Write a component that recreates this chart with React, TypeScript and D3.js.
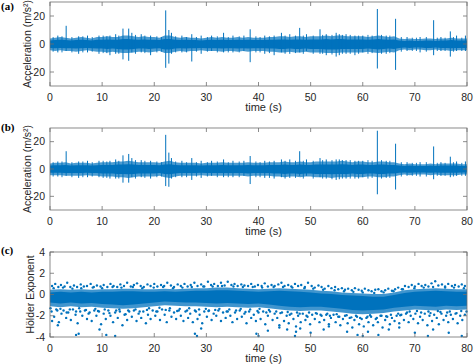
import React from "react";
import * as d3 from "d3";

// ---------- data ----------
const xTicks = [0, 10, 20, 30, 40, 50, 60, 70, 80];
const accTicks = [-20, 0, 20];
const holderTicks = [-4, -2, 0, 2, 4];

// panel (a) outer envelope of the noise band, one value per second (0..80)
const aHi = [
  4.0, 4.5, 5.0, 4.5, 4.0, 4.5, 5.0, 4.5, 4.0, 5.0,
  5.0, 5.5, 5.0, 5.0, 6.0, 6.0, 5.5, 5.0, 5.5, 5.0,
  5.0, 4.5, 6.0, 6.0, 5.0, 4.5, 5.0, 4.5, 4.5, 4.0,
  4.5, 5.0, 4.5, 5.0, 4.5, 4.5, 5.0, 4.5, 5.0, 4.5,
  4.5, 4.5, 5.0, 5.0, 5.5, 5.5, 5.0, 5.5, 5.5, 5.0,
  5.5, 5.5, 5.5, 6.0, 5.5, 6.0, 6.0, 5.5, 5.5, 5.5,
  5.5, 5.0, 5.5, 6.0, 5.5, 5.0, 5.5, 4.0, 3.5, 4.0,
  3.5, 3.5, 4.0, 4.0, 3.5, 4.0, 4.0, 4.5, 4.0, 4.0, 4.0,
];
const aLo = [
  -4.5, -5.0, -4.5, -5.0, -5.0, -5.5, -5.0, -4.5, -5.0, -5.5,
  -5.5, -6.0, -5.5, -6.0, -6.5, -6.5, -6.0, -5.5, -5.5, -6.0,
  -5.5, -5.0, -6.5, -6.5, -5.5, -5.0, -5.5, -5.0, -5.0, -4.5,
  -5.0, -5.0, -5.0, -5.5, -5.0, -5.0, -5.5, -5.0, -5.5, -5.0,
  -5.0, -5.0, -5.5, -5.5, -6.0, -6.0, -5.5, -6.0, -6.0, -5.5,
  -6.0, -6.0, -6.0, -6.5, -6.5, -6.5, -6.0, -6.0, -6.0, -6.0,
  -6.0, -5.5, -6.0, -6.5, -6.0, -5.5, -6.0, -4.5, -4.0, -4.5,
  -4.0, -4.0, -4.5, -4.5, -4.0, -4.5, -4.5, -5.0, -4.5, -4.5, -4.5,
];
// panel (a) solid inner part of the band
const aInHi = [
  2.5, 2.8, 3.0, 2.8, 2.5, 2.8, 3.0, 2.8, 2.5, 3.0,
  3.0, 3.3, 3.0, 3.0, 3.5, 3.5, 3.3, 3.0, 3.3, 3.0,
  3.0, 2.8, 3.5, 3.5, 3.0, 2.8, 3.0, 2.8, 2.8, 2.5,
  2.8, 3.0, 2.8, 3.0, 2.8, 2.8, 3.0, 2.8, 3.0, 2.8,
  2.8, 2.8, 3.0, 3.0, 3.3, 3.3, 3.0, 3.3, 3.3, 3.0,
  3.3, 3.3, 3.3, 3.5, 3.3, 3.5, 3.5, 3.3, 3.3, 3.3,
  3.3, 3.0, 3.3, 3.5, 3.3, 3.0, 3.3, 2.5, 2.2, 2.5,
  2.2, 2.2, 2.5, 2.5, 2.2, 2.5, 2.5, 2.8, 2.5, 2.5, 2.5,
];
const aInLo = [
  -2.8, -3.0, -2.8, -3.0, -3.0, -3.3, -3.0, -2.8, -3.0, -3.3,
  -3.3, -3.6, -3.3, -3.6, -3.9, -3.9, -3.6, -3.3, -3.3, -3.6,
  -3.3, -3.0, -3.9, -3.9, -3.3, -3.0, -3.3, -3.0, -3.0, -2.8,
  -3.0, -3.0, -3.0, -3.3, -3.0, -3.0, -3.3, -3.0, -3.3, -3.0,
  -3.0, -3.0, -3.3, -3.3, -3.6, -3.6, -3.3, -3.6, -3.6, -3.3,
  -3.6, -3.6, -3.6, -3.9, -3.9, -3.9, -3.6, -3.6, -3.6, -3.6,
  -3.6, -3.3, -3.6, -3.9, -3.6, -3.3, -3.6, -2.8, -2.5, -2.8,
  -2.5, -2.5, -2.8, -2.8, -2.5, -2.8, -2.8, -3.0, -2.8, -2.8, -2.8,
];
// panel (a) spikes: time, peak, trough
const aSpikeT = [1.5, 3.1, 5.5, 7.2, 9.4, 11.5, 12.6, 14.0, 15.1, 15.7, 17.5, 19.3, 22.2, 22.8, 23.3, 25.3, 27.2, 29.0, 31.0, 33.3, 35.1, 37.2, 38.4, 41.2, 43.0, 44.4, 46.0, 47.9, 49.2, 51.8, 53.0, 54.9, 55.5, 56.8, 58.5, 60.0, 62.8, 64.5, 66.3, 68.5, 71.0, 73.6, 75.0, 76.8, 78.0, 79.7];
const aSpikeHi = [6, 13, 5.5, 6, 6, 6, 7, 11, 11, 8, 7, 6, 24, 10, 8, 6, 7, 6, 6, 8, 6, 6, 10.5, 6, 6, 8, 7, 11.5, 7, 10.5, 7, 8, 7, 7, 6, 6, 25, 6, 18, 5, 5, 17, 5, 9, 6, 6];
const aSpikeLo = [-6, -5, -7, -6, -7, -8, -7, -11, -12, -6, -6, -8, -17, -14, -7, -6, -12.5, -7, -5, -6, -6, -5, -13, -7, -8, -6, -7, -6, -5, -7, -8, -9, -8, -7, -8, -6, -17.5, -7, -18.5, -5, -6, -8, -5, -9, -5, -5];

// small excursions shared by both acceleration records
const minorT = [0.6, 2.3, 4.2, 6.3, 8.1, 10.2, 10.9, 13.2, 16.4, 18.2, 20.5, 21.4, 24.1, 26.2, 28.1, 30.2, 32.1, 34.2, 36.3, 39.5, 40.3, 42.1, 45.1, 47.1, 48.6, 50.5, 52.3, 54.1, 56.1, 57.6, 59.2, 61.0, 61.8, 63.6, 65.2, 67.4, 69.5, 70.3, 72.2, 74.3, 75.8, 77.4, 79.0];
const minorHi = [5, 5.5, 5, 5.5, 5, 6, 5.5, 6, 6.5, 6, 5.5, 5, 5.5, 5, 5, 5, 5.5, 5, 5.5, 5.5, 5, 5.5, 6, 6, 6, 6, 6.5, 6.5, 6.5, 6.5, 6, 6.5, 6, 6.5, 6, 5, 4.5, 4.5, 5, 4.5, 4.5, 5, 4.5];
const minorLo = [-5.5, -6, -6, -6, -5.5, -6.5, -6.5, -7, -7, -6.5, -6, -5.5, -6, -6, -5.5, -5.5, -6, -6, -6, -6, -6, -6.5, -7, -6.5, -7, -7, -7, -7.5, -7, -7, -7, -7, -6.5, -7, -6.5, -5.5, -5, -5, -5.5, -5, -5, -5.5, -5];

// panel (b) outer envelope, one value per second (0..80)
const bHi = [
  4.0, 4.5, 4.5, 5.0, 4.0, 4.5, 4.5, 4.5, 4.0, 4.5,
  5.0, 5.0, 5.0, 5.5, 5.5, 6.0, 5.5, 5.0, 5.0, 5.0,
  5.0, 4.5, 5.5, 6.0, 5.0, 4.5, 4.5, 4.5, 4.5, 4.0,
  4.5, 4.5, 4.5, 5.0, 4.5, 4.5, 4.5, 4.5, 5.0, 4.5,
  4.5, 4.5, 5.0, 5.0, 5.0, 5.5, 5.0, 5.0, 5.5, 5.0,
  5.0, 5.5, 5.5, 5.5, 5.5, 5.5, 6.0, 5.5, 5.0, 5.5,
  5.5, 5.0, 5.0, 5.5, 5.5, 5.0, 5.0, 4.0, 3.5, 4.0,
  3.5, 3.5, 3.5, 4.0, 3.5, 4.0, 4.0, 4.0, 4.0, 3.5, 3.5,
];
const bLo = [
  -4.5, -4.5, -4.5, -5.0, -5.0, -5.0, -5.0, -4.5, -5.0, -5.0,
  -5.5, -5.5, -5.5, -6.0, -6.0, -6.5, -6.0, -5.5, -5.5, -5.5,
  -5.5, -5.0, -6.0, -6.5, -5.5, -5.0, -5.0, -5.0, -5.0, -4.5,
  -5.0, -5.0, -5.0, -5.0, -5.0, -5.0, -5.0, -5.0, -5.5, -5.0,
  -5.0, -5.0, -5.0, -5.5, -5.5, -6.0, -5.5, -5.5, -6.0, -5.5,
  -5.5, -6.0, -6.0, -6.0, -6.5, -6.0, -6.0, -6.0, -5.5, -6.0,
  -6.0, -5.5, -5.5, -6.0, -6.0, -5.5, -5.5, -4.5, -4.0, -4.5,
  -4.0, -4.0, -4.0, -4.5, -4.0, -4.5, -4.5, -4.5, -4.5, -4.0, -4.0,
];
const bInHi = [
  2.5, 2.8, 2.8, 3.0, 2.5, 2.8, 2.8, 2.8, 2.5, 2.8,
  3.0, 3.0, 3.0, 3.3, 3.3, 3.5, 3.3, 3.0, 3.0, 3.0,
  3.0, 2.8, 3.3, 3.5, 3.0, 2.8, 2.8, 2.8, 2.8, 2.5,
  2.8, 2.8, 2.8, 3.0, 2.8, 2.8, 2.8, 2.8, 3.0, 2.8,
  2.8, 2.8, 3.0, 3.0, 3.0, 3.3, 3.0, 3.0, 3.3, 3.0,
  3.0, 3.3, 3.3, 3.3, 3.3, 3.3, 3.5, 3.3, 3.0, 3.3,
  3.3, 3.0, 3.0, 3.3, 3.3, 3.0, 3.0, 2.5, 2.2, 2.5,
  2.2, 2.2, 2.2, 2.5, 2.2, 2.5, 2.5, 2.5, 2.5, 2.2, 2.2,
];
const bInLo = [
  -2.8, -2.8, -2.8, -3.0, -3.0, -3.0, -3.0, -2.8, -3.0, -3.0,
  -3.3, -3.3, -3.3, -3.6, -3.6, -3.9, -3.6, -3.3, -3.3, -3.3,
  -3.3, -3.0, -3.6, -3.9, -3.3, -3.0, -3.0, -3.0, -3.0, -2.8,
  -3.0, -3.0, -3.0, -3.0, -3.0, -3.0, -3.0, -3.0, -3.3, -3.0,
  -3.0, -3.0, -3.0, -3.3, -3.3, -3.6, -3.3, -3.3, -3.6, -3.3,
  -3.3, -3.6, -3.6, -3.6, -3.9, -3.6, -3.6, -3.6, -3.3, -3.6,
  -3.6, -3.3, -3.3, -3.6, -3.6, -3.3, -3.3, -2.8, -2.5, -2.8,
  -2.5, -2.5, -2.5, -2.8, -2.5, -2.8, -2.8, -2.8, -2.8, -2.5, -2.5,
];
const bSpikeT = [1.5, 3.1, 5.5, 7.2, 9.4, 11.5, 12.6, 14.0, 15.1, 15.7, 17.5, 19.3, 22.2, 22.8, 23.3, 25.3, 27.2, 29.0, 31.0, 33.3, 35.1, 37.2, 38.4, 41.2, 43.0, 44.4, 46.0, 47.9, 49.2, 51.8, 53.0, 54.9, 55.5, 56.8, 58.5, 60.0, 62.8, 64.5, 66.3, 68.5, 71.0, 73.6, 75.0, 76.8, 78.0, 79.7];
const bSpikeHi = [5.5, 13, 5.5, 6, 6, 6, 7, 10, 11, 8, 6.5, 6, 25, 12, 8, 6, 8, 6, 6, 7, 6, 6, 9.5, 6, 6, 7, 7, 13, 7, 8, 7, 7, 7, 6.5, 6, 6, 28, 6, 18.5, 5, 5, 16.5, 5, 9, 5.5, 5.5];
const bSpikeLo = [-5.5, -5, -6.5, -6, -6, -7, -7, -10, -10, -6, -6, -7, -12.5, -13, -7, -6, -8, -6.5, -5, -6, -6, -5, -11, -6.5, -7, -6, -6.5, -5, -5, -6, -7, -8, -7.5, -7, -7, -6, -18.5, -6.5, -15, -5, -5.5, -7.5, -5, -6, -5, -5];

// panel (c) envelope of the dense cloud, every 2 s (0..80)
const cCoreT = d3.range(0, 81, 2);
const cCoreHi = [0.45, 0.5, 0.45, 0.5, 0.45, 0.5, 0.5, 0.55, 0.55, 0.5, 0.5, 0.55, 0.5, 0.55, 0.6, 0.6, 0.65, 0.65, 0.6, 0.55, 0.5, 0.55, 0.6, 0.55, 0.5, 0.45, 0.35, 0.3, 0.2, 0.15, 0.1, 0.05, 0.05, 0.2, 0.4, 0.5, 0.55, 0.6, 0.55, 0.5, 0.5];
const cCoreLo = [-1.1, -1.2, -1.1, -1.2, -1.15, -1.25, -1.3, -1.35, -1.3, -1.2, -1.1, -1.0, -1.05, -1.1, -1.1, -1.15, -1.2, -1.15, -1.2, -1.25, -1.2, -1.3, -1.4, -1.5, -1.55, -1.5, -1.5, -1.6, -1.7, -1.8, -1.85, -1.8, -1.75, -1.6, -1.5, -1.4, -1.45, -1.5, -1.4, -1.45, -1.4];
const cInHi = [0.2, 0.25, 0.2, 0.25, 0.2, 0.25, 0.25, 0.3, 0.3, 0.25, 0.25, 0.3, 0.25, 0.3, 0.35, 0.35, 0.4, 0.4, 0.35, 0.3, 0.25, 0.3, 0.35, 0.3, 0.25, 0.2, 0.1, 0.05, -0.05, -0.1, -0.15, -0.2, -0.2, -0.05, 0.15, 0.25, 0.3, 0.35, 0.3, 0.25, 0.25];
const cInLo = [-0.75, -0.85, -0.75, -0.85, -0.8, -0.9, -0.95, -1.0, -0.95, -0.85, -0.75, -0.65, -0.7, -0.75, -0.75, -0.8, -0.85, -0.8, -0.85, -0.9, -0.85, -0.95, -1.05, -1.15, -1.2, -1.15, -1.15, -1.25, -1.35, -1.45, -1.5, -1.45, -1.4, -1.25, -1.15, -1.05, -1.1, -1.15, -1.05, -1.1, -1.05];
// panel (c) scattered points above the cloud
const cUpT = [0.4, 1.0, 1.6, 2.1, 2.8, 3.3, 3.9, 4.6, 5.2, 5.9, 6.5, 7.1, 7.8, 8.4, 9.0, 9.7, 10.3, 11.0, 11.6, 12.2, 12.9, 13.5, 14.2, 14.8, 15.5, 16.1, 16.7, 17.4, 18.0, 18.7, 19.3, 20.0, 20.6, 21.3, 21.9, 22.5, 23.2, 23.8, 24.5, 25.1, 25.8, 26.4, 27.0, 27.7, 28.3, 29.0, 29.6, 30.3, 30.9, 31.5, 32.2, 32.8, 33.5, 34.1, 34.8, 35.4, 36.0, 36.7, 37.3, 38.0, 38.6, 39.3, 39.9, 40.6, 41.2, 41.8, 42.5, 43.1, 43.8, 44.4, 45.0, 45.7, 46.3, 47.0, 47.6, 48.2, 48.9, 49.5, 50.2, 50.8, 51.5, 52.1, 52.7, 53.4, 54.0, 54.7, 55.3, 56.0, 56.6, 57.2, 57.9, 58.5, 59.2, 59.8, 60.4, 61.1, 61.7, 62.4, 63.0, 63.6, 64.3, 64.9, 65.6, 66.2, 66.8, 67.5, 68.1, 68.8, 69.4, 70.0, 70.7, 71.3, 72.0, 72.6, 73.2, 73.9, 74.5, 75.2, 75.8, 76.4, 77.1, 77.7, 78.4, 79.0, 79.6];
const cUpV = [0.8, 1.0, 0.7, 0.9, 0.75, 1.1, 0.7, 0.85, 0.7, 0.95, 0.75, 0.8, 1.0, 0.7, 0.85, 0.75, 0.9, 0.7, 1.0, 0.8, 0.7, 0.95, 0.8, 1.1, 0.75, 0.9, 1.05, 0.8, 0.7, 0.95, 0.8, 1.0, 0.75, 0.9, 0.8, 1.1, 0.85, 0.7, 0.95, 0.8, 1.0, 0.75, 0.9, 1.1, 0.8, 0.95, 0.75, 1.2, 0.9, 1.0, 0.8, 1.1, 0.85, 1.2, 0.9, 1.0, 0.8, 0.95, 0.85, 0.8, 1.0, 0.75, 0.9, 0.8, 1.05, 0.75, 0.9, 0.8, 0.95, 1.1, 0.8, 0.9, 0.75, 1.0, 0.8, 0.9, 0.7, 1.1, 0.8, 0.65, 0.85, 0.7, 0.55, 0.8, 0.6, 0.7, 0.5, 0.6, 0.45, 0.55, 0.4, 0.6, 0.45, 0.35, 0.55, 0.4, 0.3, 0.45, 0.5, 0.3, 0.4, 0.55, 0.35, 0.5, 0.65, 0.5, 0.8, 0.7, 0.9, 0.75, 1.0, 0.8, 0.9, 0.75, 1.05, 1.25, 0.85, 0.95, 0.75, 1.0, 0.8, 0.9, 0.75, 0.95, 0.8];
// panel (c) points just outside the cloud edges
const cMidT = [0.1, 0.7, 1.4, 2.0, 2.5, 3.2, 3.8, 4.3, 5.0, 5.6, 6.0, 6.9, 7.4, 8.2, 8.7, 9.2, 10.0, 10.5, 11.4, 12.0, 12.7, 13.3, 13.7, 14.5, 15.0, 15.9, 16.4, 17.2, 17.7, 18.6, 19.0, 19.9, 20.4, 21.0, 21.7, 22.2, 23.0, 23.6, 24.4, 24.9, 25.4, 26.3, 26.7, 27.2, 28.0, 28.6, 29.4, 29.9, 30.4, 31.2, 31.7, 32.5, 33.0, 33.9, 34.4, 35.2, 35.7, 36.6, 37.0, 37.5, 38.4, 38.9, 39.8, 40.2, 40.7, 41.5, 42.0, 42.9, 43.4, 44.2, 44.7, 45.6, 46.0, 46.5, 47.4, 47.9, 48.8, 49.2, 49.7, 50.5, 51.0, 51.9, 52.4, 53.2, 53.7, 54.6, 55.0, 55.5, 56.4, 56.9, 57.8, 58.2, 58.7, 59.5, 60.0, 60.9, 61.4, 62.2, 62.7, 63.6, 64.0, 64.5, 65.4, 65.9, 66.8, 67.2, 67.7, 68.5, 69.0, 69.9, 70.4, 71.2, 71.7, 72.6, 73.0, 73.5, 74.4, 74.9, 75.8, 76.2, 76.7, 77.5, 78.0, 78.9, 79.4, 79.9];
const cMidV = [-1.3, 0.6, -1.5, -1.35, 0.65, -1.7, -1.4, 0.55, -1.6, -1.3, 0.6, -1.45, -1.8, 0.65, -1.35, -1.55, 0.6, -1.4, -1.75, 0.7, -1.5, -1.4, 0.65, -1.85, -1.5, 0.7, -1.4, -1.6, 0.6, -1.45, -1.3, 0.65, -1.6, -1.25, 0.7, -1.45, -1.3, 0.6, -1.55, -1.35, 0.65, -1.5, -1.3, 0.7, -1.6, -1.4, 0.75, -1.35, -1.55, 0.75, -1.45, -1.35, 0.8, -1.6, -1.4, 0.75, -1.5, -1.35, 0.7, -1.65, -1.4, 0.7, -1.55, -1.35, 0.65, -1.7, -1.45, 0.7, -1.6, -1.75, 0.7, -1.65, -1.9, 0.65, -1.7, -1.8, 0.6, -2.0, -1.7, 0.55, -1.75, -1.9, 0.45, -1.8, -2.0, 0.4, -1.85, -2.1, 0.3, -1.95, -2.15, 0.25, -2.0, -2.2, 0.2, -2.1, -1.95, 0.15, -2.2, -2.0, 0.2, -2.05, -1.9, 0.3, -1.8, -1.95, 0.5, -1.7, -1.6, 0.6, -1.55, -1.7, 0.65, -1.6, -1.75, 0.7, -1.55, -1.65, 0.65, -1.7, -1.6, 0.65, -1.75, -1.55, 0.6, -1.6];
// panel (c) scattered points below the cloud
const cLowT = [0.3, 0.8, 1.2, 1.7, 2.2, 2.6, 3.1, 3.5, 4.0, 4.4, 4.9, 5.3, 5.8, 6.2, 6.7, 7.1, 7.6, 8.0, 8.5, 8.9, 9.4, 9.8, 10.3, 10.7, 11.2, 11.6, 12.1, 12.5, 13.0, 13.4, 13.9, 14.3, 14.8, 15.2, 15.7, 16.1, 16.6, 17.0, 17.5, 17.9, 18.4, 18.8, 19.3, 19.7, 20.2, 20.6, 21.1, 21.5, 22.0, 22.4, 22.9, 23.3, 23.8, 24.2, 24.7, 25.1, 25.6, 26.0, 26.5, 26.9, 27.4, 27.8, 28.3, 28.7, 29.2, 29.6, 30.1, 30.5, 31.0, 31.4, 31.9, 32.3, 32.8, 33.2, 33.7, 34.1, 34.6, 35.0, 35.5, 35.9, 36.4, 36.8, 37.3, 37.7, 38.2, 38.6, 39.1, 39.5, 40.0, 40.4, 40.9, 41.3, 41.8, 42.2, 42.7, 43.1, 43.6, 44.0, 44.5, 44.9, 45.4, 45.8, 46.3, 46.7, 47.2, 47.6, 48.1, 48.5, 49.0, 49.4, 49.9, 50.3, 50.8, 51.2, 51.7, 52.1, 52.6, 53.0, 53.5, 53.9, 54.4, 54.8, 55.3, 55.7, 56.2, 56.6, 57.1, 57.5, 58.0, 58.4, 58.9, 59.3, 59.8, 60.2, 60.7, 61.1, 61.6, 62.0, 62.5, 62.9, 63.4, 63.8, 64.3, 64.7, 65.2, 65.6, 66.1, 66.5, 67.0, 67.4, 67.9, 68.3, 68.8, 69.2, 69.7, 70.1, 70.6, 71.0, 71.5, 71.9, 72.4, 72.8, 73.3, 73.7, 74.2, 74.6, 75.1, 75.5, 76.0, 76.4, 76.9, 77.3, 77.8, 78.2, 78.7, 79.1, 79.6];
const cLowV = [-1.6, -2.1, -1.4, -2.6, -1.8, -1.5, -2.2, -1.7, -2.4, -1.4, -1.9, -2.7, -1.6, -2.0, -1.5, -2.3, -1.7, -2.5, -1.5, -2.0, -1.6, -2.8, -1.8, -2.3, -1.5, -2.0, -2.6, -1.7, -2.2, -1.6, -2.9, -1.9, -2.4, -1.6, -2.1, -1.5, -2.5, -1.8, -2.2, -1.6, -2.7, -1.9, -2.3, -1.5, -2.0, -1.6, -2.4, -1.4, -1.9, -2.6, -1.5, -2.1, -1.7, -2.3, -1.5, -2.0, -2.5, -1.6, -2.2, -1.8, -2.6, -1.5, -2.3, -1.9, -2.7, -1.6, -2.1, -1.5, -2.4, -1.8, -2.0, -1.5, -2.5, -1.7, -2.2, -1.6, -2.0, -2.6, -1.7, -2.3, -1.5, -2.1, -1.8, -2.7, -1.6, -2.2, -1.9, -2.5, -1.7, -2.3, -1.6, -2.8, -2.0, -1.6, -2.4, -1.8, -2.2, -2.9, -1.7, -2.5, -2.0, -2.7, -1.8, -2.3, -3.0, -2.0, -2.6, -1.8, -2.4, -2.1, -2.8, -1.9, -2.3, -1.8, -2.6, -2.0, -2.4, -1.9, -2.8, -2.2, -1.9, -2.6, -2.1, -2.9, -2.3, -2.0, -2.7, -2.2, -3.1, -2.4, -2.1, -2.8, -2.3, -3.0, -2.2, -2.6, -2.1, -2.9, -2.3, -2.6, -2.0, -3.1, -2.4, -2.1, -2.8, -2.2, -2.5, -2.0, -2.7, -1.9, -2.4, -1.8, -2.6, -2.0, -2.3, -1.8, -2.7, -2.1, -2.4, -1.8, -2.9, -2.0, -2.5, -1.9, -2.2, -2.8, -1.8, -2.4, -2.0, -2.6, -1.9, -2.3, -1.8, -2.7, -2.0, -2.4, -1.9];
// panel (c) far outliers
const cFarT = [0.4, 1.5, 5.0, 5.5, 9.5, 10.8, 12.5, 27.8, 28.2, 29.0, 39.6, 40.0, 41.8, 44.0, 45.5, 47.0, 47.2, 48.0, 50.0, 52.5, 53.5, 57.0, 59.0, 60.0, 61.0, 63.0, 65.0, 67.0, 70.0, 72.5, 73.5, 76.5, 79.0];
const cFarV = [-2.5, -2.9, -3.8, -3.7, -3.3, -3.8, -3.9, -3.7, -3.9, -3.2, -3.7, -3.9, -3.4, -3.1, -3.3, -3.9, -3.5, -3.2, -3.6, -3.3, -3.0, -3.5, -3.8, -3.9, -3.5, -3.8, -3.3, -3.1, -3.6, -3.9, -3.3, -3.6, -3.9];

// ---------- drawing ----------
const W = 474;
const H = 364;
const BLUE = "#0072BD";
const AXIS = "#6e6e6e";
const FONT = "'Liberation Sans', Arial, Helvetica, sans-serif";

const x = d3.scaleLinear().domain([0, 80]).range([50, 467]);

function Frame({ y, ticks }: { y: d3.ScaleLinear<number, number>; ticks: number[] }) {
  const [bottom, top] = y.range();
  const [left, right] = x.range();
  const tl = 4;
  return (
    <g>
      <rect x={left} y={top} width={right - left} height={bottom - top} fill="none" stroke={AXIS} strokeWidth={0.8} />
      {xTicks.map((t) => (
        <g key={"x" + t}>
          <line x1={x(t)} x2={x(t)} y1={bottom} y2={bottom - tl} stroke={AXIS} strokeWidth={0.8} />
          <line x1={x(t)} x2={x(t)} y1={top} y2={top + tl} stroke={AXIS} strokeWidth={0.8} />
          <text x={x(t)} y={bottom + 14.5} textAnchor="middle" fontSize={10.5} fontFamily={FONT} fill="#262626">
            {t}
          </text>
        </g>
      ))}
      {ticks.map((t) => (
        <g key={"y" + t}>
          <line x1={left} x2={left + tl} y1={y(t)} y2={y(t)} stroke={AXIS} strokeWidth={0.8} />
          <line x1={right} x2={right - tl} y1={y(t)} y2={y(t)} stroke={AXIS} strokeWidth={0.8} />
          <text x={45} y={y(t)} dy="0.35em" textAnchor="end" fontSize={10.5} fontFamily={FONT} fill="#262626">
            {t}
          </text>
        </g>
      ))}
      <text x={(left + right) / 2 + 5} y={bottom + 25} textAnchor="middle" fontSize={11} fontFamily={FONT} fill="#262626">
        time (s)
      </text>
    </g>
  );
}

function band(xs: number[], lo: number[], hi: number[], y: d3.ScaleLinear<number, number>) {
  return (
    d3
      .area<number>()
      .x((i) => x(xs[i]))
      .y0((i) => y(lo[i]))
      .y1((i) => y(hi[i]))(xs.map((_, i) => i)) || ""
  );
}

const secs = d3.range(0, 81);

function SignalPanel(props: {
  y: d3.ScaleLinear<number, number>;
  hi: number[]; lo: number[]; inHi: number[]; inLo: number[];
  st: number[]; sh: number[]; sl: number[];
}) {
  const { y, hi, lo, inHi, inLo, st, sh, sl } = props;
  return (
    <g>
      <path d={band(secs, lo, hi, y)} fill={BLUE} opacity={0.7} />
      <path d={band(secs, inLo, inHi, y)} fill={BLUE} />
      {minorT.map((t, i) => (
        <line key={"m" + i} x1={x(t)} x2={x(t)} y1={y(minorHi[i])} y2={y(minorLo[i])} stroke={BLUE} strokeWidth={0.9} />
      ))}
      {st.map((t, i) => (
        <line key={i} x1={x(t)} x2={x(t)} y1={y(sh[i])} y2={y(sl[i])} stroke={BLUE} strokeWidth={1} />
      ))}
    </g>
  );
}

function HolderPanel({ y }: { y: d3.ScaleLinear<number, number> }) {
  const r = 1.2;
  const dots = (ts: number[], vs: number[], k: string) =>
    ts.map((t, i) => <circle key={k + i} cx={x(t)} cy={y(vs[i])} r={r} fill={BLUE} />);
  return (
    <g>
      <path d={band(cCoreT, cCoreLo, cCoreHi, y)} fill={BLUE} opacity={0.75} />
      <path d={band(cCoreT, cInLo, cInHi, y)} fill={BLUE} />
      {dots(cUpT, cUpV, "u")}
      {dots(cMidT, cMidV, "m")}
      {dots(cLowT, cLowV, "l")}
      {dots(cFarT, cFarV, "f")}
    </g>
  );
}

export default function App() {
  const yA = d3.scaleLinear().domain([-30, 30]).range([86, 2]);
  const yB = d3.scaleLinear().domain([-30, 30]).range([210, 128]);
  const yC = d3.scaleLinear().domain([-4, 4]).range([337, 252]);
  const labelStyle = { fontFamily: FONT, fill: "#262626" };
  const serif = "'Liberation Serif', 'Times New Roman', serif";
  return (
    <svg width={W} height={H} style={{ position: "absolute", left: 0, top: 0, background: "#fff" }}>
      <rect width={W} height={H} fill="#fff" />
      <SignalPanel y={yA} hi={aHi} lo={aLo} inHi={aInHi} inLo={aInLo} st={aSpikeT} sh={aSpikeHi} sl={aSpikeLo} />
      <Frame y={yA} ticks={accTicks} />
      <SignalPanel y={yB} hi={bHi} lo={bLo} inHi={bInHi} inLo={bInLo} st={bSpikeT} sh={bSpikeHi} sl={bSpikeLo} />
      <Frame y={yB} ticks={accTicks} />
      <HolderPanel y={yC} />
      <Frame y={yC} ticks={holderTicks} />

      <text transform={`translate(31,${(yA.range()[0] + yA.range()[1]) / 2}) rotate(-90)`} textAnchor="middle" fontSize={10.5} {...labelStyle}>
        Acceleration (m/s²)
      </text>
      <text transform={`translate(31,${(yB.range()[0] + yB.range()[1]) / 2}) rotate(-90)`} textAnchor="middle" fontSize={10.5} {...labelStyle}>
        Acceleration (m/s²)
      </text>
      <text transform={`translate(34,${(yC.range()[0] + yC.range()[1]) / 2}) rotate(-90)`} textAnchor="middle" fontSize={10.5} {...labelStyle}>
        Hölder Exponent
      </text>

      <text x={1} y={10} fontSize={11} fontWeight="bold" fontFamily={serif}>(a)</text>
      <text x={1} y={131} fontSize={11} fontWeight="bold" fontFamily={serif}>(b)</text>
      <text x={1} y={254} fontSize={11} fontWeight="bold" fontFamily={serif}>(c)</text>
    </svg>
  );
}
